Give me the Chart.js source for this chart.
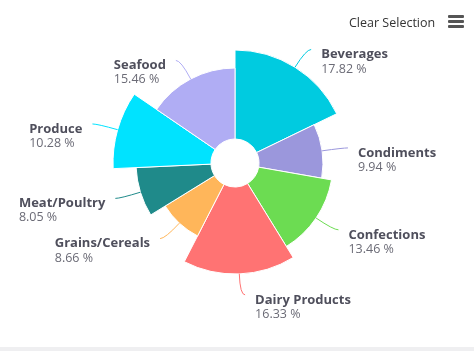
<!DOCTYPE html>
<html>
<head>
<meta charset="utf-8">
<script src="https://cdn.jsdelivr.net/npm/chart.js@4"></script>
<style>
  html, body { margin: 0; padding: 0; background: #fff; }
  #wrap { position: relative; width: 474px; height: 351px; overflow: hidden; }
  #box { position: absolute; left: 0; top: 0; width: 474px; height: 347px; }
  #foot { position: absolute; left: 0; top: 347px; width: 474px; height: 4px; background: #efeff1; }
  #clear { position: absolute; left: 349px; top: 14px; font: 12.5px "Open Sans", sans-serif; color: #333; }
  #menu { position: absolute; left: 448px; top: 15px; width: 16px; }
  #menu div { height: 3px; background: #555; margin-bottom: 2px; border-radius: 1px; }
</style>
</head>
<body>
<div id="wrap">
  <div id="box"><canvas id="myChart"></canvas></div>
  <div id="foot"></div>
  <div id="clear">Clear Selection</div>
  <div id="menu"><div></div><div></div><div></div></div>
</div>
<script>
let categories = ["Beverages", "Condiments", "Confections", "Dairy Products", "Grains/Cereals", "Meat/Poultry", "Produce", "Seafood"];
let shares = [17.82, 9.94, 13.46, 16.33, 8.66, 8.05, 10.28, 15.46];
// second value of each slice, sets how far it reaches out (0..100 scale)
let sizeValues = [77.5, 15, 40, 72.5, 0, 42.5, 100, 32.5];
let colors = ["#00cbe0", "#9b97dc", "#6cdc52", "#ff7373", "#ffb65a", "#1f8a8a", "#00e3ff", "#b0adf4"];

let minFrac = 0.672; // smallest slice reach relative to the biggest

// stretch each arc out by its size value
let variableRadius = {
  id: "variableRadius",
  afterDatasetsUpdate(chart) {
    let meta = chart.getDatasetMeta(0);
    let maxR = meta.controller.outerRadius;
    let zMin = Math.min(...sizeValues);
    let zMax = Math.max(...sizeValues);
    meta.data.forEach((arc, i) => {
      let t = (sizeValues[i] - zMin) / (zMax - zMin);
      arc.outerRadius = maxR * (minFrac + (1 - minFrac) * t);
    });
  },
};

// labels with connectors
let sliceLabels = {
  id: "sliceLabels",
  afterDatasetsDraw(chart) {
    let c = chart.ctx;
    let meta = chart.getDatasetMeta(0);
    meta.data.forEach((arc, i) => {
      let mid = (arc.startAngle + arc.endAngle) / 2;
      let dx = Math.cos(mid), dy = Math.sin(mid);
      let r = arc.outerRadius;
      let side = dx >= 0 ? 1 : -1;
      let sx = arc.x + r * dx, sy = arc.y + r * dy;
      let cx = arc.x + (r + 21) * dx, cy = arc.y + (r + 21) * dy;
      let ex = cx + side * 5, ey = cy;

      c.save();
      c.strokeStyle = colors[i];
      c.lineWidth = 1;
      c.beginPath();
      c.moveTo(sx, sy);
      c.quadraticCurveTo(cx, cy, ex, ey);
      c.stroke();

      let name = categories[i];
      let val = shares[i].toFixed(2) + " %";
      c.font = "bold 13px 'Open Sans'";
      let w1 = c.measureText(name).width;
      c.font = "12.5px 'Open Sans'";
      let w2 = c.measureText(val).width;
      let bw = Math.max(w1, w2);
      let tx = side > 0 ? ex + 10 : ex - 10 - bw;
      c.textAlign = "left";
      c.textBaseline = "middle";
      c.font = "bold 13px 'Open Sans'";
      c.fillStyle = "#4f4f5c";
      c.fillText(name, tx, ey + 5);
      c.font = "12.5px 'Open Sans'";
      c.fillStyle = "#6b6b76";
      c.fillText(val, tx, ey + 19.5);
      c.restore();
    });
  },
};

let ctx = document.getElementById("myChart");

let graphData = {
  type: "pie",
  data: {
    labels: categories,
    datasets: [
      {
        data: shares,
        backgroundColor: colors,
        borderColor: "#ffffff",
        borderWidth: 1,
      },
    ],
  },
  options: {
    responsive: true,
    maintainAspectRatio: false,
    animation: false,
    events: [],
    radius: 122,
    cutout: "19.7%",
    layout: { padding: { left: 0, right: 4, top: 0, bottom: 21 } },
    plugins: {
      legend: { display: false },
      tooltip: { enabled: false },
    },
  },
  plugins: [variableRadius, sliceLabels],
};

let myChart = new Chart(ctx, graphData);
</script>
</body>
</html>
